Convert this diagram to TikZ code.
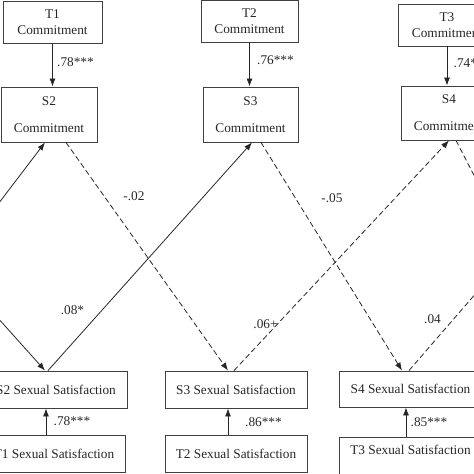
\documentclass[tikz,border=0pt]{standalone}
\usepackage{fontspec}
\setmainfont{Liberation Serif}
\usetikzlibrary{arrows.meta}
\begin{document}
\begin{tikzpicture}[x=1pt,y=-1pt,
        every node/.style={font=\fontsize{13.3}{16}\selectfont,text=black!85},
        varbox/.style={draw=black!75,line width=0.9pt,inner sep=0pt,align=center},
        sigline/.style={black!85,line width=0.8pt,-{Latex[length=8pt,width=6pt]}},
        nsline/.style={sigline,dash pattern=on 5.5pt off 3pt}]
            \useasboundingbox (0,0) rectangle (474,474);
            \clip (0,0) rectangle (474,474);
            % commitment row
            \node[varbox,minimum width=99,minimum height=42] (T1c) at (52.5,22) {T1\\Commitment};
            \node[varbox,minimum width=96,minimum height=55] (S2c) at (49,114.5) {S2\\[11pt]Commitment};
            \node[varbox,minimum width=97,minimum height=42] (T2c) at (249.5,21) {T2\\Commitment};
            \node[varbox,minimum width=95,minimum height=55] (S3c) at (250.5,114.5) {S3\\[11pt]Commitment};
            \node[varbox,minimum width=97,minimum height=42] (T3c) at (447,25) {T3\\Commitment};
            \node[varbox,minimum width=96,minimum height=54] (S4c) at (449,113) {S4\\[11pt]Commitment};
            % sexual satisfaction row
            \node[varbox,minimum width=142,minimum height=37] (S2s) at (56,389.5) {S2 Sexual Satisfaction};
            \node[varbox,minimum width=142,minimum height=37] (T1s) at (54,453.5) {T1 Sexual Satisfaction};
            \node[varbox,minimum width=142,minimum height=37] (S3s) at (236,389.5) {S3 Sexual Satisfaction};
            \node[varbox,minimum width=142,minimum height=37] (T2s) at (236,453.5) {T2 Sexual Satisfaction};
            \node[varbox,minimum width=142,minimum height=36] (S4s) at (410.5,389) {S4 Sexual Satisfaction};
            \node[varbox,minimum width=142,minimum height=43] (T3s) at (410.5,458.5) {T3 Sexual Satisfaction\\[1pt]~};
            % ends outside the crop
            \coordinate (S1s) at (-129,371);
            \coordinate (S1c) at (-159,143);
            \coordinate (S5s) at (575,371);
            \coordinate (S5c) at (607,142);
            % stability paths
            \draw[sigline] (T1c.south) -- (T1c.south |- S2c.north);
            \draw[sigline] (T2c.south) -- (T2c.south |- S3c.north);
            \draw[sigline] (T3c.south) -- (T3c.south |- S4c.north);
            \draw[sigline] ([xshift=-8]T1s.north) -- ([xshift=-8]T1s.north |- S2s.south);
            \draw[sigline] ([xshift=-8]T2s.north) -- ([xshift=-8]T2s.north |- S3s.south);
            \draw[sigline] ([xshift=-4.5]T3s.north) -- ([xshift=-4.5]T3s.north |- S4s.south);
            % cross-lagged paths
            \draw[sigline] (S1s) -- ([xshift=-4]S2c.south);
            \draw[sigline] (S1c) -- ([xshift=-11]S2s.north);
            \draw[nsline] ([xshift=17]S2c.south) -- ([xshift=-8]S3s.north);
            \draw[sigline] ([xshift=-8]S2s.north) -- ([xshift=1.5]S3c.south);
            \draw[nsline] ([xshift=10.5]S3c.south) -- ([xshift=-8.5]S4s.north);
            \draw[nsline] ([xshift=-2]S3s.north) -- (S4c.south);
            \draw[nsline] ([xshift=7]S4c.south) -- (S5s);
            \draw[nsline] ([xshift=-1.5]S4s.north) -- (S5c);
            % coefficients
            \node (b1) at (75.5,62) {.78***};
            \node (b2) at (275.5,60) {.76***};
            \node (b3) at (472,63) {.74***};
            \node (b4) at (72,421) {.78***};
            \node (b5) at (263.5,422) {.86***};
            \node (b6) at (429,422) {.85***};
            \node (c1) at (134,196) {-.02};
            \node (c2) at (332,198) {-.05};
            \node (c3) at (72.5,310) {.08*};
            \node (c4) at (265.5,324) {.06+};
            \node (c5) at (432.5,319) {.04};
\end{tikzpicture}
\end{document}
